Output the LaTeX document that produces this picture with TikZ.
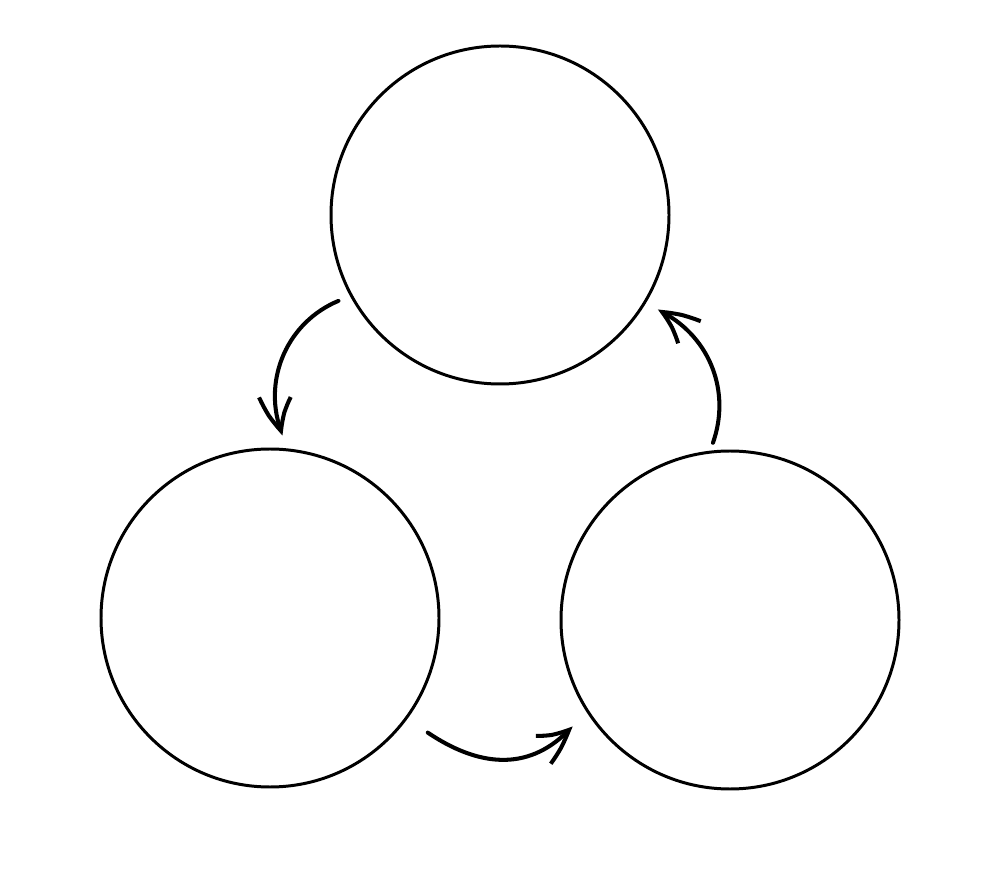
\documentclass[tikz,border=0pt]{standalone}
\usetikzlibrary{arrows.meta,bending,calc}

\begin{document}
\begin{tikzpicture}[stage/.style={circle,draw,line width=1.7pt,minimum size=6.76cm,inner sep=0pt},
    cyc/.style={line width=2.3pt,line cap=round,-{Straight Barb[bend,length=20pt,width=18pt,line width=2.3pt]}}]
    \useasboundingbox (0,0) rectangle (20,17.4);

    \node[stage] (up) at (10,13.1) {};
    \node[stage] (bl) at (5.4,5.04) {};
    \node[stage] (br) at (14.6,5.0) {};

    \coordinate (a1) at ($(up)+(208:3.66)$);
    \coordinate (b1) at ($(bl)+(86:3.66)$);
    \coordinate (a2) at ($(bl)+(-36:3.9)$);
    \coordinate (b2) at ($(br)+(214:3.8)$);
    \coordinate (a3) at ($(br)+(95.5:3.56)$);
    \coordinate (b3) at ($(up)+(-31:3.68)$);

    \draw[cyc] (a1) to[bend right=45] (b1);
    \draw[cyc] (a2) to[out=-34,in=228,looseness=1.1] (b2);
    \draw[cyc] (a3) to[bend right=42] (b3);
\end{tikzpicture}
\end{document}
